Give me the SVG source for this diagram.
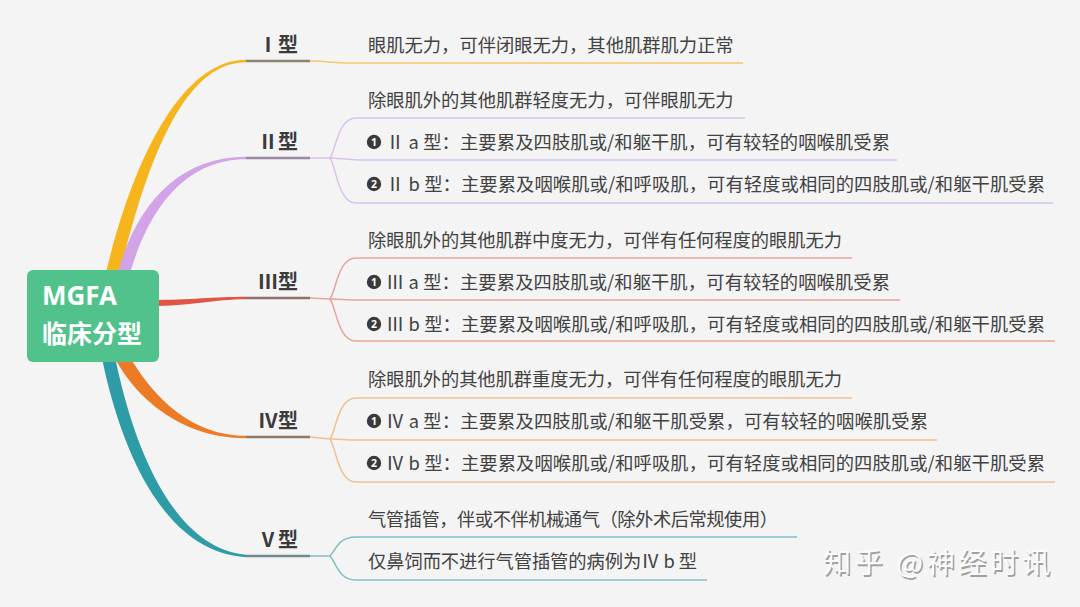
<svg xmlns="http://www.w3.org/2000/svg" width="1080" height="607" viewBox="0 0 1080 607">
<style>
.t{font-family:"Noto Sans CJK SC","Noto Sans",sans-serif;font-size:18.3px;fill:#424242}
.tl{font-family:"Noto Sans CJK SC","Noto Sans",sans-serif;font-size:20px;font-weight:bold;fill:#3b3b3b}
.num{font-family:"Noto Sans","DejaVu Sans",sans-serif;font-size:10.5px;font-weight:bold;fill:#ffffff}
.dot{fill:#3a3a3a}
.ln{fill:none;stroke-width:1.5}
.ul{fill:none;stroke-width:2.5}
.y{stroke:#F4C86E}.p{stroke:#D9C3EC}.r{stroke:#E7A49C}.o{stroke:#EFC092}.g{stroke:#83BEC5}
.wm{font-family:"Noto Sans CJK SC",sans-serif;font-size:28px}
</style>
<rect width="1080" height="607" fill="#F4F4F4"/>
<g id="connectors">
  <path d="M103,285 C134,150 185,59.8 246,59.8 L246,62.2 C186,62.2 148,153 117,285 Z" fill="#F6B51C"/>
  <path d="M116,280 C134,206 178,156.8 246,156.8 L246,159.2 C182,159.2 146,214 128,280 Z" fill="#D3A3E8"/>
  <path d="M150,300 C190,300 215,296.8 246,296.8 L246,299.2 C215,299.2 190,306 150,306 Z" fill="#DF5546"/>
  <path d="M127,352 C146,386 184,435.8 246,435.8 L246,438.2 C178,438.2 134,394 116,360 Z" fill="#EC7B26"/>
  <path d="M114.5,354 C131,438 170,548 246,554.8 L246,557.2 C160,552 119,442 101.5,356 Z" fill="#2E9CA7"/>
  <path class="ln y" d="M310,61 C330,61 328,63 348,63 L743,63"/>
  <path class="ln p" d="M310,158 L330,158"/>
  <path class="ln p" d="M330,158 C336,150 338,118 356,118 L745,118"/>
  <path class="ln p" d="M330,158 C340,158 345,160 360,160 L897,160"/>
  <path class="ln p" d="M330,158 C336,166 338,203 356,203 L1053,203"/>
  <path class="ln r" d="M310,298 L330,299"/>
  <path class="ln r" d="M330,299 C336,291 338,258 356,258 L852,258"/>
  <path class="ln r" d="M330,299 C340,299 345,300 360,300 L900,300"/>
  <path class="ln r" d="M330,299 C336,307 338,341 356,341 L1055,341"/>
  <path class="ln o" d="M310,437 L330,439"/>
  <path class="ln o" d="M330,439 C336,431 338,398 356,398 L852,398"/>
  <path class="ln o" d="M330,439 C340,439 345,440 360,440 L937,440"/>
  <path class="ln o" d="M330,439 C336,447 338,482 356,482 L1055,482"/>
  <path class="ln g" d="M310,556 L330,556"/>
  <path class="ln g" d="M330,556 C336,550 338,537 356,537 L797,537"/>
  <path class="ln g" d="M330,556 C336,562 338,580 356,580 L707,580"/>
</g>
<g id="root">
  <rect x="27" y="270" width="132" height="92" rx="6" fill="#51C28B"/>
  <text x="42" y="305" font-family="'Noto Sans','Noto Sans CJK SC',sans-serif" font-size="26" font-weight="bold" fill="#ffffff">MGFA</text>
  <text x="42" y="343" font-family="'Noto Sans CJK SC',sans-serif" font-size="25" font-weight="bold" fill="#ffffff">临床分型</text>
</g>
<g id="type1">
  <path class="ul" d="M246,61 L310,61" stroke="#8e8474"/>
  <text class="tl" x="298" y="52" text-anchor="end">Ⅰ型</text>
</g>
<g id="type2">
  <path class="ul" d="M246,158 L310,158" stroke="#9a8aa6"/>
  <text class="tl" x="298" y="149" text-anchor="end">Ⅱ型</text>
</g>
<g id="type3">
  <path class="ul" d="M246,298 L310,298" stroke="#8f6f6c"/>
  <text class="tl" x="298" y="289" text-anchor="end">Ⅲ型</text>
</g>
<g id="type4">
  <path class="ul" d="M246,437 L310,437" stroke="#8e7a6a"/>
  <text class="tl" x="298" y="428" text-anchor="end">Ⅳ型</text>
</g>
<g id="type5">
  <path class="ul" d="M246,556 L310,556" stroke="#6f8a8d"/>
  <text class="tl" x="298" y="547" text-anchor="end">Ⅴ型</text>
</g>
<g id="t1c1"><text class="t" x="368" y="52">眼肌无力，可伴闭眼无力，其他肌群肌力正常</text></g>
<g id="t2c1"><text class="t" x="368" y="107">除眼肌外的其他肌群轻度无力，可伴眼肌无力</text></g>
<g id="t2c2"><circle class="dot" cx="374" cy="142" r="7.2"/><text class="num" x="374" y="146" text-anchor="middle">1</text><text class="t" x="386" y="149" textLength="504" lengthAdjust="spacing">Ⅱ a 型：主要累及四肢肌或/和躯干肌，可有较轻的咽喉肌受累</text></g>
<g id="t2c3"><circle class="dot" cx="374" cy="184" r="7.2"/><text class="num" x="374" y="188" text-anchor="middle">2</text><text class="t" x="386" y="191" textLength="659" lengthAdjust="spacing">Ⅱ b 型：主要累及咽喉肌或/和呼吸肌，可有轻度或相同的四肢肌或/和躯干肌受累</text></g>
<g id="t3c1"><text class="t" x="368" y="247" textLength="474" lengthAdjust="spacing">除眼肌外的其他肌群中度无力，可伴有任何程度的眼肌无力</text></g>
<g id="t3c2"><circle class="dot" cx="374" cy="282" r="7.2"/><text class="num" x="374" y="286" text-anchor="middle">1</text><text class="t" x="386" y="289" textLength="504" lengthAdjust="spacing">Ⅲ a 型：主要累及四肢肌或/和躯干肌，可有较轻的咽喉肌受累</text></g>
<g id="t3c3"><circle class="dot" cx="374" cy="324" r="7.2"/><text class="num" x="374" y="328" text-anchor="middle">2</text><text class="t" x="386" y="331" textLength="659" lengthAdjust="spacing">Ⅲ b 型：主要累及咽喉肌或/和呼吸肌，可有轻度或相同的四肢肌或/和躯干肌受累</text></g>
<g id="t4c1"><text class="t" x="368" y="386" textLength="474" lengthAdjust="spacing">除眼肌外的其他肌群重度无力，可伴有任何程度的眼肌无力</text></g>
<g id="t4c2"><circle class="dot" cx="374" cy="421" r="7.2"/><text class="num" x="374" y="425" text-anchor="middle">1</text><text class="t" x="386" y="428" textLength="542" lengthAdjust="spacing">Ⅳ a 型：主要累及四肢肌或/和躯干肌受累，可有较轻的咽喉肌受累</text></g>
<g id="t4c3"><circle class="dot" cx="374" cy="463" r="7.2"/><text class="num" x="374" y="467" text-anchor="middle">2</text><text class="t" x="386" y="470" textLength="659" lengthAdjust="spacing">Ⅳ b 型：主要累及咽喉肌或/和呼吸肌，可有轻度或相同的四肢肌或/和躯干肌受累</text></g>
<g id="t5c1"><text class="t" x="368" y="526" textLength="410" lengthAdjust="spacing">气管插管，伴或不伴机械通气（除外术后常规使用）</text></g>
<g id="t5c2"><text class="t" x="368" y="568" textLength="329" lengthAdjust="spacing">仅鼻饲而不进行气管插管的病例为Ⅳ b 型</text></g>
<g id="watermark">
  <text class="wm" x="824.5" y="574.5" textLength="227" fill="#a0a0a0">知乎 @神经时讯</text>
  <text class="wm" x="823" y="573" textLength="227" fill="#fbfbfb">知乎 @神经时讯</text>
</g>
</svg>
